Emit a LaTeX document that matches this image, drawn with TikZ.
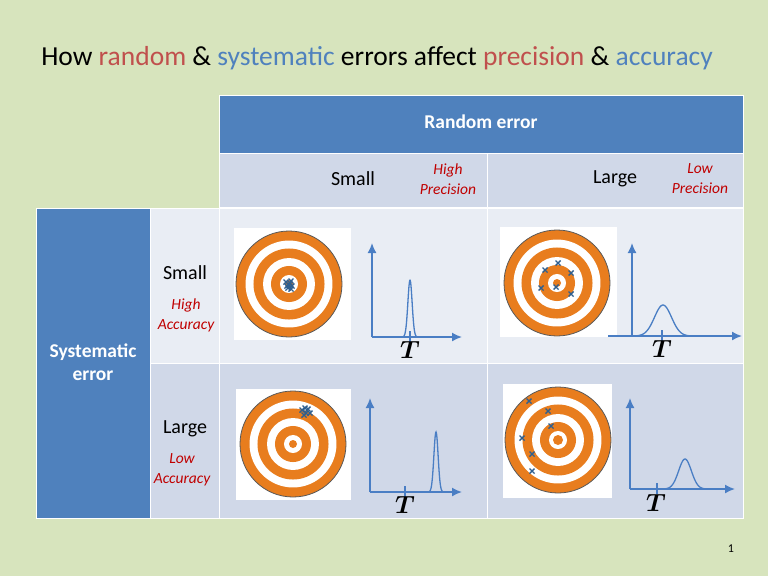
\documentclass[tikz,border=0pt]{standalone}
\usepackage{fontspec}
\usepackage{bm}
\usetikzlibrary{arrows.meta}
\setmainfont{Carlito}
\definecolor{bg}{HTML}{D7E4BD}
\definecolor{hb}{HTML}{4F81BD}
\definecolor{c1}{HTML}{E9EDF4}
\definecolor{c2}{HTML}{D0D8E8}
\definecolor{rd}{HTML}{C0504D}
\definecolor{er}{HTML}{C00000}
\definecolor{org}{HTML}{E87D1E}
\definecolor{mk}{HTML}{2F5F8F}
\definecolor{pl}{HTML}{4A7EC4}
\begin{document}
\begin{tikzpicture}[x=1pt,y=-1pt,
  cell/.style={draw=white,line width=1pt},
  lab/.style={font=\fontsize{20}{23}\selectfont},
  red/.style={text=er,font=\fontsize{15.5}{20}\selectfont\itshape,align=center},
  ax/.style={pl,line width=1.6pt,-{Latex[length=10pt,width=9pt]}},
  crv/.style={pl,line width=1.3pt},
  tl/.style={font=\fontsize{30}{30}\selectfont}]
\fill[bg] (0,0) rectangle (768,576);
\useasboundingbox (0,0) rectangle (768,576);
\node[font=\fontsize{27.5}{30}\selectfont] (title) at (377,58) {How \textcolor{rd}{random} \& \textcolor{hb}{systematic} errors affect \textcolor{rd}{precision} \& \textcolor{hb}{accuracy}};
% table
\fill[hb,cell] (219,95) rectangle (743,153);
\fill[c2,cell] (219,153) rectangle (487,207);
\fill[c2,cell] (487,153) rectangle (743,207);
\fill[hb,cell] (36,208) rectangle (150,518);
\fill[c1,cell] (150,208) rectangle (219,363);
\fill[c1,cell] (219,208) rectangle (487,363);
\fill[c1,cell] (487,208) rectangle (743,363);
\fill[c2,cell] (150,363) rectangle (219,518);
\fill[c2,cell] (219,363) rectangle (487,518);
\fill[c2,cell] (487,363) rectangle (743,518);
\node[text=white,font=\fontsize{19.5}{22}\selectfont\bfseries] (re) at (481,122) {Random error};
\node[text=white,font=\fontsize{19.5}{23}\selectfont\bfseries,align=center] (se) at (93,362) {Systematic\\error};
\node[lab] (cs) at (353,179) {Small};
\node[red] (hp) at (448,179) {High\\Precision};
\node[lab] (cl) at (615,179) {Large};
\node[red] (lp) at (700,179) {Low\\Precision};
\node[lab] (rs) at (185,273) {Small};
\node[red] (ha) at (186,315) {High\\Accuracy};
\node[lab] (rl) at (185,429) {Large};
\node[red] (la) at (182,470) {Low\\Accuracy};
\node[font=\fontsize{12}{14}\selectfont] (pg) at (731,549) {1};
% targets
\newcommand{\tgt}[5]{%
  \fill[white] (#1) rectangle (#2);
  \begin{scope}[shift={(#3)}]
   \fill[org] (0,0) circle (#4);
   \draw[gray!70!black,line width=0.8pt] (0,0) circle (#4);
   \fill[white] (0,0) circle (#4*0.82);
   \fill[org] (0,0) circle (#4*0.67);
   \fill[white] (0,0) circle (#4*0.49);
   \fill[org] (0,0) circle (#4*0.34);
   \fill[white] (0,0) circle (#4*0.17);
   #5
  \end{scope}}
\newcommand{\mkx}[1]{\draw[mk,line width=1.4pt] #1 ++(-2.5,-2.5) -- ++(5,5) #1 ++(-2.5,2.5) -- ++(5,-5);}
\tgt{234,228}{351,340}{289,284}{53}{\fill[org] (0,0) circle (4);
  \foreach \p in {(-3,-2),(2,-3),(0,1),(-2,2),(3,2),(1,-1),(-1,4),(2,5)} {\mkx{\p}}}
\tgt{500,227}{617,337}{557,283}{53}{\fill[org] (0,0) circle (4);
  \foreach \p in {(-12,-13),(1,-20),(14,-10),(-16,5),(-1,4),(14,11)} {\mkx{\p}}}
\tgt{236,389}{351,500}{293,444}{53}{\fill[org] (0,0) circle (4);
  \foreach \p in {(9,-34),(13,-31),(15,-35),(11,-29),(17,-31),(12,-36)} {\mkx{\p}}}
\tgt{503,384}{612,498}{558,440}{53}{\fill[org] (0,0) circle (5);
  \foreach \p in {(-29,-39),(-10,-29),(-7,-14),(-36,-2),(-26,14),(-26,31)} {\mkx{\p}}}
% plots
\coordinate (o1) at (372,337); \coordinate (y1) at (372,243); \coordinate (x1) at (462,337);
\draw[ax] (o1) -- (y1); \draw[ax] (o1) -- (x1);
\draw[crv] plot[domain=395:425,samples=80,smooth] (\x,{337-57*exp(-((\x-410)/3)^2)});
\draw[crv] (410,331) -- (410,342);
\node[tl] (t1) at (410,350) {$\bm{T}$};
\coordinate (o2) at (632,336); \coordinate (y2) at (632,243); \coordinate (x2) at (742,336);
\coordinate (z2) at (608,336);
\draw[ax] (o2) -- (y2); \draw[ax] (z2) -- (x2);
\draw[crv] plot[domain=612:720,samples=100,smooth] (\x,{336-31*exp(-((\x-663)/12)^2)});
\draw[crv] (662,330) -- (662,341);
\node[tl] (t2) at (662,349) {$\bm{T}$};
\coordinate (o3) at (370,492); \coordinate (y3) at (370,398); \coordinate (x3) at (462,492);
\draw[ax] (o3) -- (y3); \draw[ax] (o3) -- (x3);
\draw[crv] plot[domain=422:452,samples=80,smooth] (\x,{492-60*exp(-((\x-436)/3)^2)});
\draw[crv] (405,486) -- (405,497);
\node[tl] (t3) at (405,505) {$\bm{T}$};
\coordinate (o4) at (630,489); \coordinate (y4) at (630,398); \coordinate (x4) at (735,489);
\draw[ax] (o4) -- (y4); \draw[ax] (o4) -- (x4);
\draw[crv] plot[domain=640:722,samples=100,smooth] (\x,{489-30*exp(-((\x-685)/9)^2)});
\draw[crv] (657,483) -- (657,494);
\node[tl] (t4) at (656,503) {$\bm{T}$};
\end{tikzpicture}
\end{document}
